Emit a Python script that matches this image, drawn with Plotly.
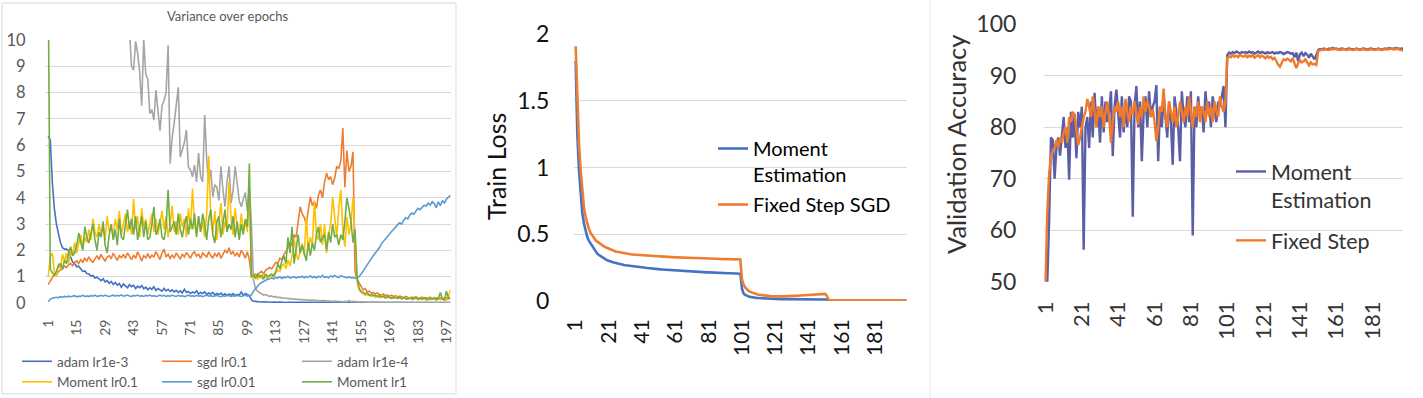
import plotly.graph_objects as go

# ---------------- Panel 1: Variance over epochs ----------------
var_adam_1e3 = [
    6.35, 6.2, 4.6, 3.6, 3.0, 2.6, 2.3, 2.1, 2.05, 2.05,
    2.0, 1.75, 1.55, 1.5, 1.38, 1.4, 1.28, 1.2, 1.22, 1.12,
    1.1, 1.02, 1.05, 0.95, 0.98, 0.9, 0.85, 0.92, 0.8, 0.85,
    0.75, 0.82, 0.7, 0.78, 0.68, 0.74, 0.6, 0.72, 0.66, 0.58,
    0.7, 0.62, 0.68, 0.55, 0.64, 0.58, 0.66, 0.54, 0.6, 0.5,
    0.58, 0.52, 0.62, 0.48, 0.55, 0.5, 0.45, 0.56, 0.46, 0.52,
    0.44, 0.5, 0.42, 0.48, 0.4, 0.46, 0.38, 0.52, 0.4, 0.44,
    0.36, 0.42, 0.38, 0.46, 0.34, 0.4, 0.36, 0.42, 0.32, 0.38,
    0.34, 0.4, 0.3, 0.36, 0.32, 0.38, 0.3, 0.35, 0.28, 0.34,
    0.3, 0.36, 0.28, 0.33, 0.3, 0.42, 0.3, 0.36, 0.32, 0.28,
    0.12, 0.07, 0.06, 0.05, 0.05, 0.04, 0.05, 0.04, 0.04, 0.04,
    0.03, 0.04, 0.03, 0.03, 0.04, 0.03, 0.03, 0.02, 0.03, 0.03,
    0.03, 0.02, 0.03, 0.03, 0.02, 0.03, 0.02, 0.02, 0.03, 0.02,
    0.02, 0.03, 0.02, 0.02, 0.02, 0.03, 0.02, 0.02, 0.02, 0.02,
    0.02, 0.02, 0.03, 0.02, 0.02, 0.02, 0.02, 0.02, 0.02, 0.03,
    0.02, 0.02, 0.02, 0.02, 0.02, 0.02, 0.02, 0.02, 0.02, 0.02,
    0.02, 0.02, 0.02, 0.02, 0.02, 0.02, 0.02, 0.02, 0.02, 0.02,
    0.02, 0.02, 0.02, 0.02, 0.02, 0.02, 0.02, 0.02, 0.02, 0.02,
    0.02, 0.02, 0.02, 0.02, 0.02, 0.02, 0.02, 0.02, 0.02, 0.02,
    0.02, 0.02, 0.02, 0.02, 0.02, 0.02, 0.02, 0.02, 0.02,
]
var_sgd_01 = [
    0.7, 0.85, 1.0, 1.1, 1.05, 1.2, 1.25, 1.3, 1.4, 1.35,
    1.45, 1.5, 1.42, 1.55, 1.6, 1.5, 1.65, 1.55, 1.7, 1.6,
    1.75, 1.62, 1.55, 1.7, 1.8, 1.65, 1.85, 1.7, 1.6, 1.75,
    1.8, 1.68, 1.9, 1.75, 1.62, 1.8, 1.72, 1.85, 1.7, 1.9,
    1.78, 1.65, 1.82, 1.7, 1.95, 1.75, 1.6, 1.8, 1.72, 1.88,
    1.7, 1.82, 1.75, 1.95, 1.8, 1.65, 1.9, 2.05, 1.75, 1.85,
    1.7, 1.82, 1.72, 1.9, 1.78, 1.68, 1.85, 1.75, 1.92, 1.8,
    1.7, 1.88, 1.95, 1.78, 1.85, 1.7, 1.9, 1.82, 1.75, 1.95,
    1.8, 1.72, 1.88, 1.78, 1.92, 1.7, 1.85, 2.0, 1.9, 2.1,
    1.85, 1.95, 1.8, 1.9, 1.75, 2.0, 1.88, 1.7, 1.95, 1.65,
    1.0, 1.05, 1.1, 1.0, 1.15, 1.2, 1.1, 1.25, 1.3, 1.35,
    1.3, 1.45, 1.55, 1.5, 1.7, 1.65, 1.85, 1.95, 2.1, 2.3,
    2.2, 2.6, 2.5, 3.0, 3.66, 3.4, 3.25, 3.0, 3.5, 4.04,
    3.7, 3.85, 3.6, 4.1, 4.3, 4.0, 4.6, 4.94, 4.7, 4.8,
    4.5, 4.75, 5.2, 5.1, 5.4, 6.65, 4.4, 5.8, 5.0, 5.2,
    5.75, 1.2, 0.9, 0.75, 0.6, 0.5, 0.55, 0.42, 0.45, 0.38,
    0.4, 0.35, 0.38, 0.32, 0.3, 0.34, 0.28, 0.3, 0.26, 0.3,
    0.25, 0.28, 0.22, 0.26, 0.24, 0.2, 0.25, 0.22, 0.18, 0.22,
    0.2, 0.24, 0.18, 0.2, 0.22, 0.16, 0.2, 0.18, 0.22, 0.15,
    0.18, 0.2, 0.16, 0.19, 0.15, 0.18, 0.2, 0.16, 0.18,
]
var_adam_1e4 = [
    38, 34, 31, 29, 27, 25.5, 24, 23, 22, 21,
    20.5, 19.8, 19, 18.5, 18, 17.4, 17, 16.5, 16.2, 15.8,
    15.4, 15, 14.7, 14.3, 14, 13.7, 13.4, 13.1, 12.9, 12.6,
    12.4, 12.2, 12, 11.8, 11.5, 11.3, 11.1, 10.9, 10.7, 10.5,
    10.3, 9.0, 8.85, 9.95, 9.5, 8.8, 7.5, 10.0, 8.7, 8.5,
    7.2, 7.35, 6.95, 8.1, 7.3, 6.55, 7.5, 7.7, 8.0, 9.8,
    5.3, 6.3, 6.85, 7.6, 8.2, 5.55, 5.8, 6.1, 6.58, 5.17,
    5.06, 4.8, 5.25, 4.6, 5.7, 4.8, 4.6, 7.15, 5.44, 4.55,
    5.06, 4.04, 4.5, 4.4, 3.9, 5.2, 4.3, 3.66, 4.6, 5.2,
    3.8, 4.3, 5.2, 4.5, 3.9, 3.66, 3.9, 4.2, 3.5, 4.37,
    3.0, 0.9, 0.55, 0.45, 0.4, 0.35, 0.3, 0.32, 0.28, 0.25,
    0.27, 0.22, 0.25, 0.2, 0.22, 0.18, 0.2, 0.17, 0.18, 0.15,
    0.17, 0.14, 0.15, 0.13, 0.14, 0.12, 0.13, 0.11, 0.12, 0.1,
    0.11, 0.1, 0.09, 0.1, 0.08, 0.09, 0.08, 0.07, 0.08, 0.07,
    0.06, 0.07, 0.06, 0.07, 0.06, 0.05, 0.06, 0.05, 0.1, 0.05,
    0.06, 0.05, 0.06, 0.04, 0.05, 0.04, 0.03, 0.04, 0.03, 0.04,
    0.03, 0.03, 0.03, 0.03, 0.02, 0.03, 0.02, 0.03, 0.02, 0.02,
    0.03, 0.02, 0.02, 0.02, 0.02, 0.03, 0.02, 0.02, 0.02, 0.02,
    0.02, 0.02, 0.02, 0.02, 0.02, 0.02, 0.02, 0.02, 0.02, 0.02,
    0.02, 0.02, 0.02, 0.02, 0.02, 0.02, 0.02, 0.02, 0.02,
]
var_moment_01 = [
    1.0, 1.75, 1.9, 1.2, 1.0, 1.5, 1.3, 1.85, 1.6, 1.9,
    1.5, 2.0, 1.8, 2.3, 1.9, 2.2, 2.6, 2.1, 2.5, 2.3,
    2.8, 2.4, 3.2, 2.7, 2.5, 3.0, 2.6, 2.9, 2.4, 3.3,
    2.7, 2.9, 2.5, 3.2, 2.8, 3.5, 2.6, 3.0, 3.4, 2.7,
    3.1, 2.6, 3.95, 2.8, 3.3, 2.5, 3.6, 2.9, 3.2, 2.6,
    3.0, 3.4, 2.7, 3.2, 2.6, 3.1, 3.5, 2.8, 3.3, 2.5,
    3.0, 3.7, 2.7, 3.1, 2.6, 3.4, 2.9, 3.2, 2.5, 3.6,
    2.8, 4.35, 3.0, 2.6, 3.3, 2.7, 3.1, 2.5, 3.4, 5.6,
    3.2, 2.7, 3.5, 2.4, 3.0, 3.8, 2.6, 3.1, 2.8, 4.6,
    3.2, 2.6, 3.6, 2.9, 2.5, 3.4, 2.8, 3.1, 2.7, 4.2,
    1.0, 0.95, 1.05, 0.9, 1.0, 0.95, 1.1, 1.0, 0.92, 1.05,
    1.0, 1.1, 1.15, 1.25, 1.2, 1.4, 1.5, 1.3, 1.63, 1.4,
    1.8, 2.5, 1.9, 1.63, 2.0, 2.28, 1.8, 3.28, 2.0, 2.5,
    2.2, 3.9, 2.6, 2.4, 3.0, 2.2, 3.0, 1.9, 2.6, 3.0,
    4.03, 3.2, 2.5, 3.6, 4.3, 2.77, 2.14, 3.28, 2.6, 3.0,
    4.0, 2.6, 0.8, 0.5, 0.4, 0.35, 0.3, 0.32, 0.28, 0.25,
    0.3, 0.22, 0.25, 0.2, 0.28, 0.22, 0.18, 0.24, 0.2, 0.22,
    0.18, 0.25, 0.16, 0.2, 0.15, 0.22, 0.14, 0.18, 0.2, 0.12,
    0.16, 0.2, 0.12, 0.18, 0.14, 0.2, 0.1, 0.16, 0.12, 0.18,
    0.14, 0.1, 0.16, 0.12, 0.2, 0.15, 0.1, 0.25, 0.5,
]
var_sgd_001 = [
    0.05, 0.15, 0.18, 0.2, 0.22, 0.2, 0.24, 0.22, 0.25, 0.23,
    0.26, 0.24, 0.25, 0.28, 0.23, 0.26, 0.25, 0.3, 0.24, 0.27,
    0.25, 0.28, 0.26, 0.3, 0.25, 0.27, 0.29, 0.26, 0.3, 0.27,
    0.25, 0.28, 0.3, 0.26, 0.29, 0.27, 0.31, 0.26, 0.28, 0.3,
    0.27, 0.25, 0.29, 0.27, 0.3, 0.26, 0.28, 0.25, 0.29, 0.27,
    0.3, 0.26, 0.28, 0.25, 0.27, 0.3, 0.26, 0.29, 0.25, 0.28,
    0.26, 0.3, 0.27, 0.25, 0.29, 0.26, 0.28, 0.24, 0.27, 0.3,
    0.26, 0.28, 0.25, 0.29, 0.26, 0.28, 0.24, 0.27, 0.3, 0.26,
    0.28, 0.25, 0.27, 0.29, 0.26, 0.24, 0.28, 0.26, 0.3, 0.27,
    0.25, 0.28, 0.26, 0.29, 0.27, 0.25, 0.28, 0.3, 0.26, 0.28,
    0.3, 0.45, 0.55, 0.65, 0.72, 0.78, 0.82, 0.88, 0.9, 0.92,
    0.95, 0.92, 0.97, 0.95, 1.0, 0.93, 0.98, 0.96, 1.02, 0.95,
    0.98, 1.0, 0.95, 0.99, 0.97, 1.02, 0.96, 1.0, 0.98, 1.03,
    0.97, 1.0, 0.95, 1.02, 0.98, 1.05, 0.97, 1.0, 0.96, 1.03,
    0.99, 1.05, 1.0, 0.97, 1.04, 1.0, 0.98, 0.96, 0.99, 0.95,
    0.97, 0.94, 0.96, 1.0, 1.1, 1.22, 1.35, 1.45, 1.6, 1.7,
    1.8, 1.9, 2.0, 2.1, 2.25, 2.35, 2.45, 2.55, 2.62, 2.72,
    2.8, 2.9, 2.98, 3.05, 3.0, 3.15, 3.25, 3.2, 3.35, 3.42,
    3.38, 3.5, 3.6, 3.55, 3.65, 3.72, 3.68, 3.8, 3.72, 3.85,
    3.78, 3.62, 3.85, 3.7, 3.9, 3.8, 3.95, 4.02, 4.1,
]
var_moment_1 = [
    12.0, 1.3, 1.15, 1.06, 1.2, 1.4, 1.5, 1.3, 1.63, 1.5,
    1.9, 2.14, 1.8, 1.9, 2.2, 2.66, 2.3, 2.0, 2.9, 2.5,
    2.28, 2.6, 3.0, 2.4, 2.0, 2.7, 2.5, 3.1, 2.2, 1.9,
    2.6, 3.0, 2.4, 2.8, 2.2, 3.2, 2.5, 2.4, 2.9, 3.55,
    2.8, 3.2, 2.6, 3.3, 2.4, 2.9, 3.3, 2.5, 3.1, 2.4,
    2.5, 3.0, 3.66, 2.6, 2.8, 3.2, 2.5, 2.4, 2.9, 4.3,
    2.7, 2.9, 3.1, 2.6, 3.4, 2.8, 2.5, 3.0, 3.3, 2.6,
    3.2, 2.8, 3.4, 2.5, 3.3, 2.7, 3.4, 3.0, 2.4, 3.2,
    3.55, 2.6, 2.28, 3.1, 3.3, 2.5, 3.0, 3.55, 2.7, 3.0,
    2.8, 3.3, 2.5, 3.1, 2.4, 3.0, 2.6, 3.2, 2.9, 5.3,
    1.0, 1.05, 0.95, 1.1, 1.0, 1.05, 0.9, 1.1, 1.0, 1.05,
    1.1, 1.0, 1.2, 1.5, 1.3, 1.6, 1.8, 1.5, 2.5, 1.9,
    2.9, 1.5, 2.0, 2.6, 1.9, 2.2, 1.9, 1.6, 2.3, 1.8,
    2.28, 2.0, 2.6, 2.9, 2.3, 2.5, 2.6, 2.0, 2.7, 2.3,
    3.0, 2.5, 2.6, 2.2, 2.6, 2.4, 3.1, 4.0, 3.6, 3.1,
    2.3, 2.8, 1.0, 0.55, 0.45, 0.4, 0.35, 0.38, 0.3, 0.32,
    0.28, 0.3, 0.25, 0.28, 0.22, 0.26, 0.2, 0.24, 0.22, 0.18,
    0.22, 0.2, 0.18, 0.22, 0.16, 0.2, 0.18, 0.15, 0.2, 0.17,
    0.16, 0.2, 0.15, 0.18, 0.14, 0.2, 0.16, 0.13, 0.18, 0.15,
    0.2, 0.14, 0.17, 0.4, 0.15, 0.12, 0.45, 0.18, 0.2,
]
var_ticks = [1, 15, 29, 43, 57, 71, 85, 99, 113, 127, 141, 155, 169, 183, 197]

# ---------------- Panel 2: Train loss ----------------
loss_moment = [
    1.8, 1.25, 0.98, 0.8, 0.66, 0.58, 0.52, 0.48, 0.45, 0.43,
    0.41, 0.39, 0.37, 0.355, 0.345, 0.335, 0.325, 0.318, 0.312, 0.306,
    0.3, 0.296, 0.292, 0.288, 0.284, 0.281, 0.278, 0.275, 0.273, 0.27,
    0.268, 0.266, 0.264, 0.262, 0.26, 0.258, 0.257, 0.256, 0.254, 0.253,
    0.252, 0.25, 0.249, 0.248, 0.246, 0.245, 0.244, 0.242, 0.241, 0.24,
    0.238, 0.237, 0.236, 0.235, 0.234, 0.233, 0.232, 0.231, 0.23, 0.229,
    0.228, 0.227, 0.226, 0.226, 0.225, 0.224, 0.224, 0.223, 0.222, 0.222,
    0.221, 0.22, 0.22, 0.219, 0.218, 0.218, 0.217, 0.216, 0.216, 0.215,
    0.215, 0.214, 0.214, 0.213, 0.212, 0.212, 0.211, 0.211, 0.21, 0.21,
    0.209, 0.209, 0.208, 0.208, 0.207, 0.207, 0.206, 0.206, 0.205, 0.205,
    0.09, 0.055, 0.045, 0.038, 0.034, 0.031, 0.028, 0.026, 0.024, 0.023,
    0.022, 0.021, 0.02, 0.019, 0.018, 0.018, 0.017, 0.017, 0.016, 0.016,
    0.015, 0.015, 0.015, 0.014, 0.014, 0.014, 0.013, 0.013, 0.013, 0.013,
    0.013, 0.012, 0.012, 0.012, 0.012, 0.012, 0.012, 0.012, 0.012, 0.012,
    0.012, 0.012, 0.012, 0.012, 0.012, 0.012, 0.012, 0.012, 0.012, 0.012,
    0.011, 0.011, 0.004, 0.003, 0.003, 0.003, 0.002, 0.002, 0.002, 0.002,
    0.002, 0.002, 0.002, 0.002, 0.002, 0.002, 0.002, 0.002, 0.002, 0.002,
    0.002, 0.002, 0.002, 0.002, 0.002, 0.002, 0.002, 0.002, 0.002, 0.002,
    0.002, 0.002, 0.002, 0.002, 0.002, 0.002, 0.002, 0.002, 0.002, 0.002,
    0.002, 0.002, 0.002, 0.002, 0.002, 0.002, 0.002, 0.002, 0.002, 0.002,
]
loss_fixed = [
    1.91, 1.45, 1.18, 0.98, 0.8, 0.7, 0.63, 0.58, 0.54, 0.51,
    0.49, 0.47, 0.455, 0.445, 0.435, 0.425, 0.418, 0.41, 0.403, 0.397,
    0.39, 0.385, 0.38, 0.376, 0.372, 0.369, 0.366, 0.363, 0.36, 0.358,
    0.356, 0.354, 0.352, 0.35, 0.349, 0.348, 0.346, 0.345, 0.344, 0.343,
    0.342, 0.341, 0.34, 0.339, 0.338, 0.337, 0.336, 0.335, 0.334, 0.333,
    0.332, 0.332, 0.331, 0.331, 0.33, 0.33, 0.329, 0.329, 0.328, 0.328,
    0.327, 0.327, 0.326, 0.326, 0.325, 0.325, 0.325, 0.324, 0.324, 0.323,
    0.323, 0.322, 0.322, 0.322, 0.321, 0.321, 0.32, 0.32, 0.32, 0.319,
    0.319, 0.318, 0.318, 0.318, 0.317, 0.317, 0.316, 0.316, 0.316, 0.315,
    0.315, 0.314, 0.314, 0.314, 0.313, 0.313, 0.312, 0.312, 0.311, 0.311,
    0.16, 0.12, 0.1, 0.085, 0.075, 0.068, 0.062, 0.057, 0.053, 0.05,
    0.047, 0.045, 0.043, 0.041, 0.04, 0.038, 0.037, 0.036, 0.035, 0.035,
    0.034, 0.034, 0.034, 0.034, 0.035, 0.035, 0.035, 0.036, 0.036, 0.037,
    0.037, 0.038, 0.038, 0.039, 0.04, 0.041, 0.042, 0.043, 0.044, 0.045,
    0.046, 0.047, 0.047, 0.048, 0.049, 0.05, 0.05, 0.051, 0.052, 0.052,
    0.053, 0.04, 0.01, 0.005, 0.004, 0.004, 0.003, 0.003, 0.003, 0.003,
    0.003, 0.003, 0.003, 0.003, 0.003, 0.003, 0.003, 0.003, 0.003, 0.003,
    0.003, 0.003, 0.003, 0.003, 0.003, 0.003, 0.003, 0.003, 0.003, 0.003,
    0.003, 0.003, 0.003, 0.003, 0.003, 0.003, 0.003, 0.003, 0.003, 0.003,
    0.003, 0.003, 0.003, 0.003, 0.003, 0.003, 0.003, 0.003, 0.003, 0.003,
]
loss_ticks = [1, 21, 41, 61, 81, 101, 121, 141, 161, 181]

# ---------------- Panel 3: Validation accuracy ----------------
acc_moment = [
    50, 50, 62, 78, 77.5, 70, 76, 78, 74.5, 79,
    82, 76, 80, 69.8, 83, 78, 82.5, 74, 83, 80,
    84, 56.2, 80, 82, 76, 85, 78, 86.7, 80, 84,
    77, 86, 79, 85, 81, 83, 87, 74.4, 84, 87.3,
    82, 78, 86, 79, 84, 80, 86, 85, 62.6, 84,
    88, 80, 85, 73.4, 83, 86, 80, 87, 82, 84,
    85, 88.2, 73.4, 84, 80, 86, 82, 78, 85, 81,
    72.7, 86, 83, 80, 73.4, 87, 82, 80, 86, 81,
    87, 59, 84, 80, 86, 82, 84, 79, 87, 83,
    85, 80, 86, 83, 81, 85, 84, 86, 88, 80,
    94, 94.5, 94.3, 94.6, 94.4, 94.7, 94.5, 94.3, 94.6, 94.5,
    94.6, 94.4, 94.7, 94.5, 94.6, 94.3, 94.5, 94.7, 94.4, 94.6,
    94.5, 94.3, 94.6, 94.4, 94.5, 94.6, 94.3, 94.5, 94.4, 94.6,
    94.5, 94.2, 94.4, 94.6, 94.5, 94.3, 94.4, 93.6, 94.5, 92.8,
    94.2, 94.5, 93.8, 94.4, 94.1, 93.5, 94.3, 93.6, 93.2, 94.0,
    95.0, 95.2, 95.1, 95.3, 95.2, 95.1, 95.3, 95.2, 95.4, 95.2,
    95.3, 95.1, 95.2, 95.3, 95.2, 95.1, 95.2, 95.3, 95.2, 95.2,
    95.1, 95.3, 95.2, 95.1, 95.2, 95.3, 95.2, 95.1, 95.2, 95.3,
    95.2, 95.2, 95.1, 95.3, 95.2, 95.1, 95.2, 95.3, 95.2, 95.4,
    95.3, 95.2, 95.3, 95.4, 95.3, 95.2, 95.3, 95.2,
]
acc_fixed = [
    50, 64, 71, 74.5, 75.5, 76, 77.5, 76, 78, 77,
    79, 80, 77, 82, 81, 83, 82.5, 79, 76.5, 78,
    80, 82, 83, 85.5, 84, 82, 86, 83, 80, 84,
    82, 84, 80, 83, 85, 82, 77, 81, 84, 83,
    85, 82, 84, 80, 85.5, 83, 81, 84, 82.5, 85,
    83, 80.5, 84, 82, 86, 83, 85, 84, 82, 83.5,
    81, 77.3, 80, 84, 83, 87.5, 82, 80, 85, 83,
    81, 84, 80, 82, 85, 83, 81, 84, 82, 86,
    83, 80, 84, 82, 85, 81, 84, 83, 81, 85,
    82, 84, 81, 85, 83, 82, 86, 84, 83, 85,
    93.5, 93.8, 93.6, 94.0, 93.7, 93.9, 93.6, 94.1, 93.8, 93.7,
    94.0, 93.6, 93.9, 93.7, 94.1, 93.5, 93.8, 94.0, 93.6, 93.9,
    93.7, 93.4, 93.8, 93.5, 93.7, 93.2, 93.5, 92.8, 92.2, 91.8,
    92.5, 93.2, 93.0, 93.3, 93.1, 92.8, 93.4, 92.5, 91.5, 92.4,
    93.0, 92.6, 92.8, 93.2, 92.5, 92.0, 92.6, 92.2, 92.3, 92.1,
    94.8, 95.0, 95.1, 95.0, 95.2, 95.1, 95.0, 95.2, 95.1, 95.3,
    95.1, 95.2, 95.0, 95.1, 95.2, 95.1, 95.0, 95.2, 95.1, 95.0,
    95.1, 95.2, 95.1, 95.0, 95.1, 95.2, 95.0, 95.1, 95.0, 95.2,
    95.1, 95.0, 95.1, 95.2, 95.1, 95.0, 95.1, 95.2, 95.1, 95.2,
    95.3, 95.2, 95.1, 95.3, 95.2, 95.1, 95.0, 94.9,
]
acc_ticks = [1, 21, 41, 61, 81, 101, 121, 141, 161, 181]

# ---------------- Figure ----------------
W, H = 1423, 398
FONT = "Lato, Carlito, Calibri, 'Open Sans', sans-serif"


def px(p):
    return p / W


def py(p):
    return (H - p) / H


def epochs(vals):
    return list(range(1, len(vals) + 1))


fig = go.Figure()

p1 = [
    ("adam lr1e-3", var_adam_1e3, "#4472C4", "legend"),
    ("sgd lr0.1", var_sgd_01, "#ED7D31", "legend2"),
    ("adam lr1e-4", var_adam_1e4, "#A5A5A5", "legend3"),
    ("Moment lr0.1", var_moment_01, "#FFC000", "legend"),
    ("sgd lr0.01", var_sgd_001, "#5B9BD5", "legend2"),
    ("Moment lr1", var_moment_1, "#70AD47", "legend3"),
]
for name, vals, color, leg in p1:
    fig.add_trace(go.Scatter(
        x=epochs(vals), y=vals, mode="lines", name=name,
        line=dict(color=color, width=1.6), xaxis="x", yaxis="y", legend=leg,
    ))

fig.add_trace(go.Scatter(
    x=epochs(loss_moment), y=loss_moment, mode="lines", name="Moment<br>Estimation",
    line=dict(color="#4472C4", width=2.6), xaxis="x2", yaxis="y2", legend="legend4",
    legendgroup="lm",
))
fig.add_trace(go.Scatter(
    x=epochs(loss_fixed), y=loss_fixed, mode="lines", name="Fixed Step SGD",
    line=dict(color="#ED7D31", width=2.6), xaxis="x2", yaxis="y2", legend="legend4",
    legendgroup="lf",
))

fig.add_trace(go.Scatter(
    x=epochs(acc_moment), y=acc_moment, mode="lines", name="Moment<br>Estimation",
    line=dict(color="#5B5EA6", width=2.4), xaxis="x3", yaxis="y3", legend="legend5",
    legendgroup="am",
))
fig.add_trace(go.Scatter(
    x=epochs(acc_fixed), y=acc_fixed, mode="lines", name="Fixed Step",
    line=dict(color="#F07A2C", width=2.4), xaxis="x3", yaxis="y3", legend="legend5",
    legendgroup="af",
))

CLEAR = "rgba(0,0,0,0)"
GRID = "#D9D9D9"

xcommon = dict(showgrid=False, zeroline=False, showline=False, ticks="outside",
               tickcolor=CLEAR, tickangle=-90, fixedrange=True, automargin=False)
ycommon = dict(showgrid=True, gridcolor=GRID, gridwidth=1, zeroline=False,
               showline=False, ticks="outside", tickcolor=CLEAR, fixedrange=True,
               automargin=False)

fig.update_layout(
    width=W, height=H, autosize=False,
    margin=dict(l=0, r=0, t=0, b=0, pad=0, autoexpand=False),
    paper_bgcolor="white", plot_bgcolor="white",
    font=dict(family=FONT),
    xaxis=dict(**xcommon, domain=[px(45), px(450.5)], range=[-0.6, 199], anchor="y",
               tickvals=var_ticks, ticktext=[str(t) for t in var_ticks], ticklen=10,
               tickfont=dict(size=14, color="#595959", family=FONT)),
    yaxis=dict(**ycommon, domain=[py(303), py(40)], range=[0, 10], dtick=1, tick0=0,
               anchor="x", ticklen=15, tickfont=dict(size=16.5, color="#595959", family=FONT)),
    xaxis2=dict(**xcommon, domain=[px(574), px(906.7)], range=[0, 200], anchor="y2",
                tickvals=loss_ticks, ticktext=[str(t) for t in loss_ticks], ticklen=9,
                tickfont=dict(size=21, color="#111111", family=FONT)),
    yaxis2=dict(**ycommon, domain=[py(301), py(34.3)], range=[0, 2], dtick=0.5, tick0=0,
                anchor="x2", ticklen=19, tickfont=dict(size=23, color="#111111", family=FONT)),
    xaxis3=dict(**xcommon, domain=[px(1044), px(1403)], range=[0.17, 197.7], anchor="y3",
                tickvals=acc_ticks, ticktext=[str(t) for t in acc_ticks], ticklen=10,
                tickfont=dict(size=22, color="#333333", family=FONT)),
    yaxis3=dict(**ycommon, domain=[py(281.7), py(24.3)], range=[50, 100], dtick=10, tick0=50,
                anchor="x3", ticklen=22, tickfont=dict(size=23, color="#333333", family=FONT)),
    legend=dict(x=px(17), y=py(346), xanchor="left", yanchor="top", bgcolor=CLEAR,
                font=dict(size=13.5, color="#595959", family=FONT), traceorder="normal"),
    legend2=dict(x=px(157), y=py(346), xanchor="left", yanchor="top", bgcolor=CLEAR,
                 font=dict(size=13.5, color="#595959", family=FONT), traceorder="normal"),
    legend3=dict(x=px(297), y=py(346), xanchor="left", yanchor="top", bgcolor=CLEAR,
                 font=dict(size=13.5, color="#595959", family=FONT), traceorder="normal"),
    legend4=dict(x=px(713), y=py(129), xanchor="left", yanchor="top", bgcolor=CLEAR,
                 valign="top", font=dict(size=20, color="#000000", family=FONT),
                 traceorder="grouped", tracegroupgap=1),
    legend5=dict(x=px(1231), y=py(151), xanchor="left", yanchor="top", bgcolor=CLEAR,
                 valign="top", font=dict(size=21.5, color="#333333", family=FONT),
                 traceorder="grouped", tracegroupgap=10),
    annotations=[
        dict(text="Variance over epochs", x=px(228), y=py(16), xref="paper", yref="paper",
             showarrow=False, xanchor="center", yanchor="middle",
             font=dict(size=13, color="#595959", family=FONT)),
        dict(text="Train Loss", x=px(496), y=py(167), xref="paper", yref="paper",
             showarrow=False, textangle=-90, xanchor="center", yanchor="middle",
             font=dict(size=25, color="#111111", family=FONT)),
        dict(text="Validation Accuracy", x=px(956), y=py(145), xref="paper", yref="paper",
             showarrow=False, textangle=-90, xanchor="center", yanchor="middle",
             font=dict(size=25.5, color="#333333", family=FONT)),
    ],
    shapes=[
        dict(type="rect", xref="paper", yref="paper", x0=px(2), x1=px(456), y0=py(394), y1=py(3),
             line=dict(color="#D9D9D9", width=1), fillcolor=CLEAR, layer="below"),
        dict(type="line", xref="paper", yref="paper", x0=px(930), x1=px(930), y0=0, y1=1,
             line=dict(color="#E6E6E6", width=1)),
    ],
)

fig.write_html(
    "out.html",
    config={"displayModeBar": False},
    post_script="document.body.style.margin='0px';document.body.style.overflow='hidden';",
)
